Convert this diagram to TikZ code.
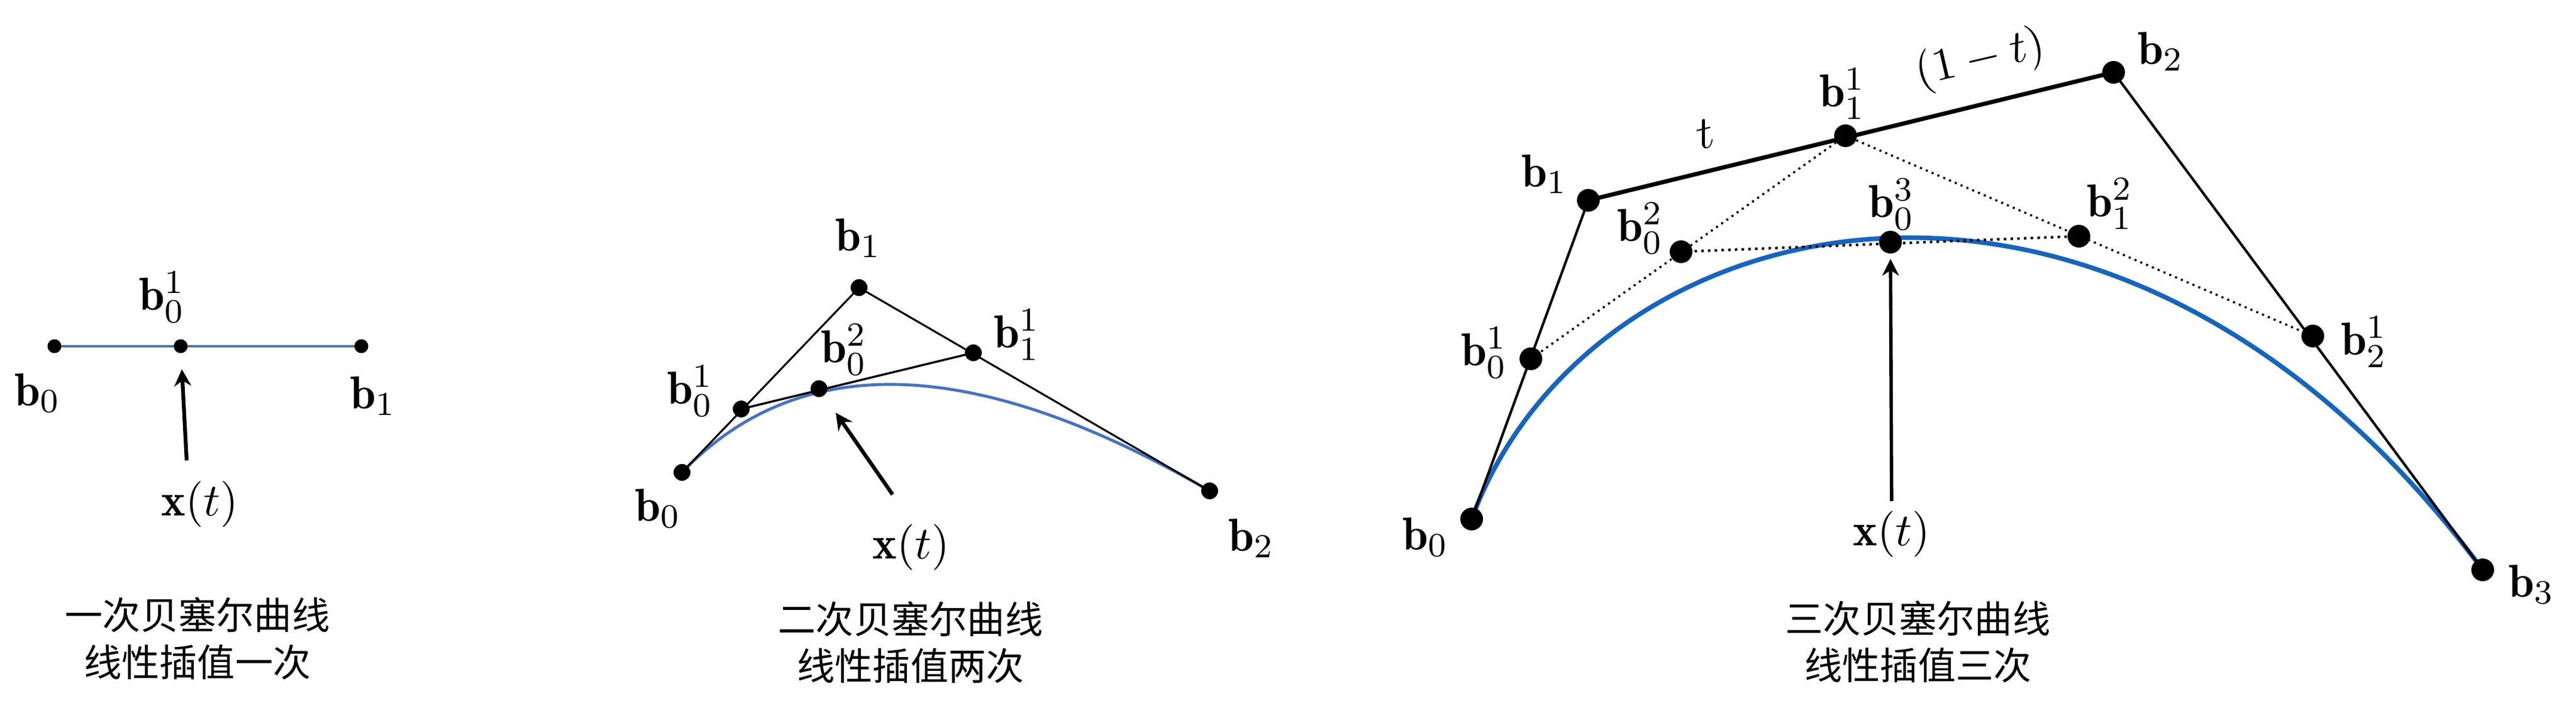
\documentclass[tikz,border=0pt]{standalone}
\usepackage{fontspec}
\usepackage{amsmath}
\newfontfamily\cjk{Noto Sans CJK SC}
\usetikzlibrary{arrows.meta}
\definecolor{lineblue}{RGB}{68,114,196}
\definecolor{curveblue}{RGB}{21,101,192}

\begin{document}
\begin{tikzpicture}[vertex/.style={circle,fill=black,inner sep=0pt,outer sep=0pt},
        lab/.style={font=\fontsize{11}{13}\selectfont,inner sep=0pt},
        captext/.style={font=\cjk\fontsize{9}{11.2}\selectfont,align=center,inner sep=0pt},
        pointer/.style={-{Stealth[length=4pt,width=4pt]},line width=0.9pt},
        line width=0.5pt]
        \useasboundingbox (0,0) rectangle (21.53,5.92);

        % linear
        \coordinate (l0) at (0.455,3.025);
        \coordinate (l01) at (1.51,3.025);
        \coordinate (l1) at (3.02,3.025);
        \coordinate (la) at (1.56,2.07);
        \draw[lineblue,line width=0.7pt] (l0)--(l01)--(l1);
        \node[vertex,minimum size=3.3pt] (dl0) at (l0) {};
        \node[vertex,minimum size=3.3pt] (dl01) at (l01) {};
        \node[vertex,minimum size=3.3pt] (dl1) at (l1) {};
        \draw[pointer,shorten >=0.135cm] (la)--(dl01);
        \node[lab] (tl0) at (0.315,2.635) {$\mathbf{b}_0$};
        \node[lab] (tl1) at (3.12,2.61) {$\mathbf{b}_1$};
        \node[lab] (tl01) at (1.355,3.435) {$\mathbf{b}_0^1$};
        \node[lab] (txl) at (1.67,1.705) {$\mathbf{x}(t)$};
        \node[captext] (capl) at (1.65,0.58) {一次贝塞尔曲线\\线性插值一次};

        % quadratic
        \coordinate (q0) at (5.70,1.97);
        \coordinate (q01) at (6.195,2.50);
        \coordinate (q1) at (7.18,3.515);
        \coordinate (q02) at (6.845,2.67);
        \coordinate (q11) at (8.135,2.97);
        \coordinate (q2) at (10.11,1.815);
        \coordinate (qa) at (7.46,1.785);
        \draw[lineblue,line width=0.7pt] (q0) .. controls (6.687,3.0) and (8.157,2.9485) .. (q2);
        \draw[line width=0.45pt] (q0)--(q1)--(q2);
        \draw (q01)--(q11);
        \node[vertex,minimum size=4pt] (dq0) at (q0) {};
        \node[vertex,minimum size=4pt] (dq01) at (q01) {};
        \node[vertex,minimum size=4pt] (dq1) at (q1) {};
        \node[vertex,minimum size=4pt] (dq02) at (q02) {};
        \node[vertex,minimum size=4pt] (dq11) at (q11) {};
        \node[vertex,minimum size=4pt] (dq2) at (q2) {};
        \draw[pointer,shorten >=0.175cm] (qa)--(dq02);
        \node[lab] (tq0) at (5.50,1.67) {$\mathbf{b}_0$};
        \node[lab] (tq1) at (7.175,3.93) {$\mathbf{b}_1$};
        \node[lab] (tq2) at (10.46,1.42) {$\mathbf{b}_2$};
        \node[lab] (tq01) at (5.77,2.65) {$\mathbf{b}_0^1$};
        \node[lab] (tq02) at (7.055,2.995) {$\mathbf{b}_0^2$};
        \node[lab] (tq11) at (8.50,3.12) {$\mathbf{b}_1^1$};
        \node[lab] (txq) at (7.615,1.345) {$\mathbf{x}(t)$};
        \node[captext] (capq) at (7.61,0.5475) {二次贝塞尔曲线\\线性插值两次};

        % cubic
        \coordinate (c0) at (12.30,1.58);
        \coordinate (c1) at (13.275,4.245);
        \coordinate (c2) at (17.665,5.315);
        \coordinate (c3) at (20.75,1.155);
        \coordinate (c01) at (12.795,2.92);
        \coordinate (c11) at (15.425,4.785);
        \coordinate (c21) at (19.33,3.11);
        \coordinate (c02) at (14.05,3.815);
        \coordinate (c12) at (17.375,3.945);
        \coordinate (c03) at (15.80,3.895);
        \coordinate (ca) at (15.81,1.73);
        \draw[curveblue,line width=1.1pt] (c0) .. controls (c1) and (c2) .. (c3);
        \draw[line width=0.6pt] (c0)--(c1);
        \draw[line width=1pt] (c1)--(c2);
        \draw[line width=0.6pt] (c2)--(c3);
        \draw[densely dotted] (c01)--(c11)--(c21);
        \draw[densely dotted,line width=0.6pt] (c02)--(c12);
        \foreach \p in {c0,c1,c2,c3,c01,c11,c21,c02,c12,c03}
          \node[vertex,minimum size=5.4pt] (d\p) at (\p) {};
        \draw[pointer,line width=0.8pt,shorten >=0.045cm] (ca)--(dc03);
        \node[lab] (tc0) at (11.915,1.43) {$\mathbf{b}_0$};
        \node[lab] (tc1) at (12.91,4.465) {$\mathbf{b}_1$};
        \node[lab] (tc2) at (18.06,5.49) {$\mathbf{b}_2$};
        \node[lab] (tc3) at (21.16,1.035) {$\mathbf{b}_3$};
        \node[lab] (tc01) at (12.405,2.97) {$\mathbf{b}_0^1$};
        \node[lab] (tc02) at (13.71,4.01) {$\mathbf{b}_0^2$};
        \node[lab] (tc11) at (15.40,5.135) {$\mathbf{b}_1^1$};
        \node[lab] (tc03) at (15.81,4.21) {$\mathbf{b}_0^3$};
        \node[lab] (tc12) at (17.635,4.215) {$\mathbf{b}_1^2$};
        \node[lab] (tc21) at (19.76,3.06) {$\mathbf{b}_2^1$};
        \node[lab,rotate=14] (tct) at (14.25,4.80) {$t$};
        \node[lab,rotate=13] (tcu) at (16.55,5.42) {$(1-t)$};
        \node[lab] (txc) at (15.81,1.455) {$\mathbf{x}(t)$};
        \node[captext] (capc) at (16.03,0.5525) {三次贝塞尔曲线\\线性插值三次};
      \end{tikzpicture}
\end{document}
